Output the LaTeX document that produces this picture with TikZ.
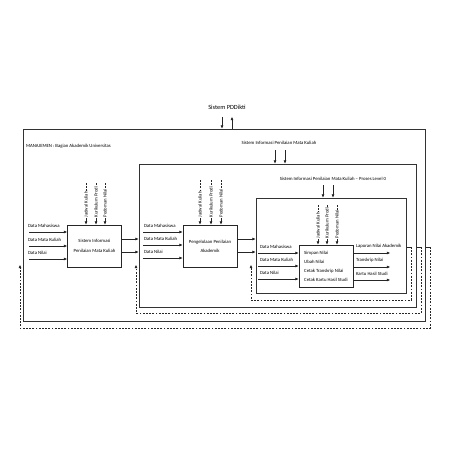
\documentclass[tikz,border=0pt]{standalone}
\usepackage{fontspec}
\setmainfont{Carlito}
\usetikzlibrary{arrows.meta}

\begin{document}
\begin{tikzpicture}
[
x=1mm, y=-1mm,
frame/.style={draw=black!80, line width=1mm, inner sep=0pt},
procbox/.style={draw=black!85, line width=1mm, inner sep=0pt, minimum width=54mm, minimum height=42mm, align=center, font=\fontsize{13.5}{28}\selectfont},
lbl/.style={inner sep=0pt, font=\fontsize{13.5}{16}\selectfont},
ctrl/.style={inner sep=0.6mm, rotate=90, anchor=west, font=\fontsize{13.5}{16}\selectfont},
flow/.style={draw=black!85, line width=0.9mm, -{Triangle[length=3.2mm,width=2.6mm]}},
ctrldash/.style={draw=black!85, line width=0.9mm, dash pattern=on 1.6mm off 1.6mm},
fbstub/.style={draw=black!85, line width=0.9mm},
fbline/.style={draw=black!85, line width=0.9mm, dash pattern=on 1.8mm off 1.4mm, -{Triangle[length=3.2mm,width=2.6mm]}}
]
\useasboundingbox (0,0) rectangle (452,452);
\fill[white] (0,0) rectangle (452,452);

%Frames
\node[frame, minimum width=401mm, minimum height=192mm] at(224.5,225)	(mgmt) {};
\node[frame, minimum width=277mm, minimum height=143mm] at(277.5,235.5)	(sipmk) {};
\node[frame, minimum width=150mm, minimum height=95mm] at(331,245.5)	(lvl0) {};
\node[lbl, font=\fontsize{18}{20}\selectfont] at(227,107)	(pddikti) {Sistem PDDikti};
\node[lbl, anchor=west] at(26,146)	(tmgmt) {MANAJEMEN : Bagian Akademik Universitas};
\node[lbl] at(279,143)	(tsipmk) {Sistem Informasi Penilaian Mata Kuliah};
\node[lbl] at(333,179)	(tlvl0) {Sistem Informasi Penilaian Mata Kuliah -- Proses Level 0};

%Processes
\node[procbox] at(94.5,246)	(boxA) {Sistem Informasi\\Penilaian Mata Kuliah};
\node[procbox, font=\fontsize{13.5}{26}\selectfont] at(210,246)	(boxB) {Pengelolaan Penilaian\\Akademik};
\node[procbox, align=left, font=\fontsize{13.5}{25.5}\selectfont] at(326,266)	(boxC) {Simpan Nilai\\Ubah Nilai\\Cetak Transkrip Nilai\\Cetak Kartu Hasil Studi};

%Inputs
\node[lbl, anchor=west] at(28,225.5)	(lA1) {Data Mahasiswa};
\node[lbl, anchor=west] at(28,239.5)	(lA2) {Data Mata Kuliah};
\node[lbl, anchor=west] at(28,252.5)	(lA3) {Data Nilai};
\node[lbl, anchor=west] at(144,225.5)	(lB1) {Data Mahasiswa};
\node[lbl, anchor=west] at(144,238.5)	(lB2) {Data Mata Kuliah};
\node[lbl, anchor=west] at(144,251.5)	(lB3) {Data Nilai};
\node[lbl, anchor=west] at(260,246.5)	(lC1) {Data Mahasiswa};
\node[lbl, anchor=west] at(260,259.5)	(lC2) {Data Mata Kuliah};
\node[lbl, anchor=west] at(260,272.5)	(lC3) {Data Nilai};
\coordinate (iA1) at(29,232);
\coordinate (iA2) at(29,246);
\coordinate (iA3) at(29,259);
\coordinate (iB1) at(143,232);
\coordinate (iB2) at(143,245);
\coordinate (iB3) at(143,258);
\coordinate (iC1) at(258,253);
\coordinate (iC2) at(258,266);
\coordinate (iC3) at(258,279);
\draw[flow] (iA1) -- (iA1 -| boxA.west);
\draw[flow] (iA2) -- (iA2 -| boxA.west);
\draw[flow] (iA3) -- (iA3 -| boxA.west);
\draw[flow] (iB1) -- (iB1 -| boxB.west);
\draw[flow] (iB2) -- (iB2 -| boxB.west);
\draw[flow] (iB3) -- (iB3 -| boxB.west);
\draw[flow] (iC1) -- (iC1 -| boxC.west);
\draw[flow] (iC2) -- (iC2 -| boxC.west);
\draw[flow] (iC3) -- (iC3 -| boxC.west);

%Outputs
\coordinate (oA1) at([yshift=7mm]boxA.east);
\coordinate (oA2) at([yshift=-6mm]boxA.east);
\coordinate (oB1) at([yshift=7mm]boxB.east);
\coordinate (oB2) at([yshift=-6mm]boxB.east);
\draw[flow] (oA1) -- (oA1 -| sipmk.west);
\draw[flow] (oA2) -- (oA2 -| sipmk.west);
\draw[flow] (oB1) -- (oB1 -| lvl0.west);
\draw[flow] (oB2) -- (oB2 -| lvl0.west);
\node[lbl, anchor=west] at(356,246.5)	(lO1) {Laporan Nilai Akademik};
\node[lbl, anchor=west] at(356,260)	(lO2) {Transkrip Nilai};
\node[lbl, anchor=west] at(356,273.5)	(lO3) {Kartu Hasil Studi};
\coordinate (oC1) at(390,253);
\coordinate (oC2) at(390,267);
\coordinate (oC3) at(390,280);
\draw[flow] (oC1 -| boxC.east) -- (oC1);
\draw[flow] (oC2 -| boxC.east) -- (oC2);
\draw[flow] (oC3 -| boxC.east) -- (oC3);

%Controls
\coordinate (topA) at(0,183);
\coordinate (topB) at(0,180);
\coordinate (topC) at(0,205);
\node[ctrl] at(86,218)	(cA1) {Jadwal Kuliah};
\node[ctrl] at(96,218)	(cA2) {Kurikulum Prodi};
\node[ctrl] at(105,218)	(cA3) {Pedoman Nilai};
\node[ctrl] at(200,218)	(cB1) {Jadwal Kuliah};
\node[ctrl] at(211,218)	(cB2) {Kurikulum Prodi};
\node[ctrl] at(221,218)	(cB3) {Pedoman Nilai};
\node[ctrl] at(318,239)	(cC1) {Jadwal Kuliah};
\node[ctrl] at(327,239)	(cC2) {Kurikulum Prodi};
\node[ctrl] at(337,239)	(cC3) {Pedoman Nilai};
\draw[ctrldash] (cA1.east |- topA) -- (cA1.east);
\draw[ctrldash] (cA2.east |- topA) -- (cA2.east);
\draw[ctrldash] (cA3.east |- topA) -- (cA3.east);
\draw[ctrldash] (cB1.east |- topB) -- (cB1.east);
\draw[ctrldash] (cB2.east |- topB) -- (cB2.east);
\draw[ctrldash] (cB3.east |- topB) -- (cB3.east);
\draw[ctrldash] (cC1.east |- topC) -- (cC1.east);
\draw[ctrldash] (cC2.east |- topC) -- (cC2.east);
\draw[ctrldash] (cC3.east |- topC) -- (cC3.east);
\draw[flow] (cA1.west) -- (cA1.west |- boxA.north);
\draw[flow] (cA2.west) -- (cA2.west |- boxA.north);
\draw[flow] (cA3.west) -- (cA3.west |- boxA.north);
\draw[flow] (cB1.west) -- (cB1.west |- boxB.north);
\draw[flow] (cB2.west) -- (cB2.west |- boxB.north);
\draw[flow] (cB3.west) -- (cB3.west |- boxB.north);
\draw[flow] (cC1.west) -- (cC1.west |- boxC.north);
\draw[flow] (cC2.west) -- (cC2.west |- boxC.north);
\draw[flow] (cC3.west) -- (cC3.west |- boxC.north);

%Frame arrows
\coordinate (pdin) at(222,117);
\coordinate (pdout) at(232,117);
\coordinate (s1) at(275,150);
\coordinate (s2) at(285,150);
\coordinate (p1) at(323,185);
\coordinate (p2) at(333,185);
\draw[flow] (pdin) -- (pdin |- mgmt.north);
\draw[flow] (pdout |- mgmt.north) -- (pdout);
\draw[flow] (s1) -- (s1 |- sipmk.north);
\draw[flow] (s2) -- (s2 |- sipmk.north);
\draw[flow] (p1) -- (p1 |- lvl0.north);
\draw[flow] (p2) -- (p2 |- lvl0.north);

%Feedback
\coordinate (r1) at(430,247);
\coordinate (b1) at(20,328);
\coordinate (e1) at(20,265);
\coordinate (r2) at(421,247);
\coordinate (b2) at(136,313);
\coordinate (e2) at(136,265);
\coordinate (r3) at(411,247);
\coordinate (b3) at(251,300);
\coordinate (e3) at(251,265);
\draw[fbstub] (r1 -| mgmt.east) -- (r1);
\draw[fbstub] (r2 -| sipmk.east) -- (r2);
\draw[fbstub] (r3 -| lvl0.east) -- (r3);
\draw[fbline] (r1) |- (b1) -- (e1);
\draw[fbline] (r2) |- (b2) -- (e2);
\draw[fbline] (r3) |- (b3) -- (e3);

\end{tikzpicture}
\end{document}
